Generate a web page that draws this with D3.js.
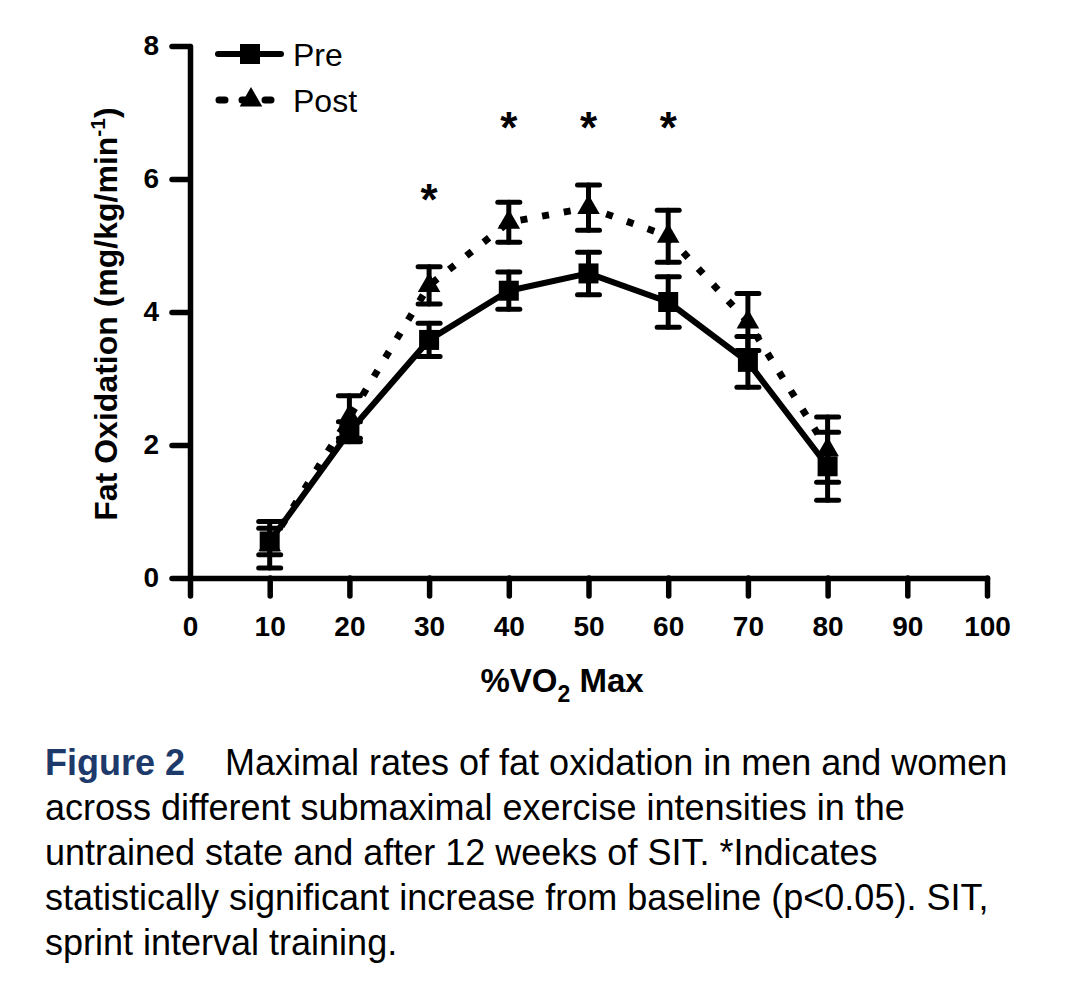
<!DOCTYPE html>
<html>
<head>
<meta charset="utf-8">
<script src="https://cdn.jsdelivr.net/npm/d3@7"></script>
<style>
  html, body { margin: 0; padding: 0; background: #fff; }
  svg { display: block; font-family: "Liberation Sans", Arial, Helvetica, sans-serif; }
</style>
</head>
<body>
<div id="chart"></div>
<script>
// Fat oxidation vs %VO2 max, pre / post SIT

const intensities = [10, 20, 30, 40, 50, 60, 70, 80];
const preMean = [0.55, 2.2, 3.58, 4.32, 4.58, 4.15, 3.25, 1.68];
const preSem = [0.2, 0.15, 0.25, 0.28, 0.32, 0.38, 0.38, 0.51];
const postMean = [0.5, 2.42, 4.4, 5.35, 5.57, 5.14, 3.85, 1.93];
const postSem = [0.35, 0.32, 0.28, 0.3, 0.34, 0.39, 0.43, 0.49];

const starX = [30, 40, 50, 60];
const starY = [5.83, 6.92, 6.92, 6.92];

const xTicks = [0, 10, 20, 30, 40, 50, 60, 70, 80, 90, 100];
const yTicks = [0, 2, 4, 6, 8];

const captionLines = [
    'across different submaximal exercise intensities in the',
    'untrained state and after 12 weeks of SIT. *Indicates',
    'statistically significant increase from baseline (p<0.05). SIT,',
    'sprint interval training.'
];

const W = 1080, H = 991;

const svg = d3.select('#chart').append('svg')
    .attr('width', W)
    .attr('height', H);

const x = d3.scaleLinear().domain([0, 100]).range([190, 987]);
const y = d3.scaleLinear().domain([0, 8]).range([578, 46]);

const pre = intensities.map((v, i) => ({ x: v, m: preMean[i], e: preSem[i] }));
const post = intensities.map((v, i) => ({ x: v, m: postMean[i], e: postSem[i] }));

// axes
const yAxis = d3.axisLeft(y).tickValues(yTicks).tickSize(18).tickSizeOuter(0).tickPadding(13);
const xAxis = d3.axisBottom(x).tickValues(xTicks).tickSize(18).tickSizeOuter(0).tickPadding(20);

function styleAxis(g) {
    g.selectAll('path, line')
        .attr('stroke', '#000')
        .attr('stroke-width', 5.5)
        .attr('stroke-linecap', 'round')
        .attr('stroke-linejoin', 'round');
    g.selectAll('text')
        .attr('fill', '#000')
        .attr('font-size', 28)
        .attr('font-weight', 'bold')
        .attr('font-family', '"Liberation Sans", Arial, sans-serif');
}

svg.append('g')
    .attr('transform', `translate(0,${y(0)})`)
    .call(xAxis)
    .call(styleAxis);

svg.append('g')
    .attr('transform', `translate(${x(0)},0)`)
    .call(yAxis)
    .call(styleAxis);

// axis titles
svg.append('text')
    .attr('transform', `translate(117,${(y(0) + y(8)) / 2 + 2}) rotate(-90)`)
    .attr('text-anchor', 'middle')
    .attr('font-size', 32)
    .attr('font-weight', 'bold')
    .call(t => {
        t.append('tspan').text('Fat Oxidation (mg/kg/min');
        t.append('tspan').attr('font-size', 21).attr('dy', -12).text('-1');
        t.append('tspan').attr('dy', 12).text(')');
    });

svg.append('text')
    .attr('x', 562)
    .attr('y', 692)
    .attr('text-anchor', 'middle')
    .attr('font-size', 33)
    .attr('font-weight', 'bold')
    .call(t => {
        t.append('tspan').text('%VO');
        t.append('tspan').attr('font-size', 23).attr('dy', 10).text('2');
        t.append('tspan').attr('dy', -10).text(' Max');
    });

// lines
const line = d3.line().x(d => x(d.x)).y(d => y(d.m));

svg.append('path')
    .datum(post)
    .attr('d', line)
    .attr('fill', 'none')
    .attr('stroke', '#000')
    .attr('stroke-width', 7)
    .attr('stroke-dasharray', '7 15');

svg.append('path')
    .datum(pre)
    .attr('d', line)
    .attr('fill', 'none')
    .attr('stroke', '#000')
    .attr('stroke-width', 6);

// error bars
function errorBars(data, cls) {
    const g = svg.append('g').attr('class', cls)
        .attr('stroke', '#000')
        .attr('stroke-width', 5)
        .attr('stroke-linecap', 'round');
    g.selectAll('.v').data(data).enter().append('line')
        .attr('x1', d => x(d.x)).attr('x2', d => x(d.x))
        .attr('y1', d => y(d.m - d.e)).attr('y2', d => y(d.m + d.e));
    g.selectAll('.top').data(data).enter().append('line')
        .attr('x1', d => x(d.x) - 11).attr('x2', d => x(d.x) + 11)
        .attr('y1', d => y(d.m + d.e)).attr('y2', d => y(d.m + d.e));
    g.selectAll('.bot').data(data).enter().append('line')
        .attr('x1', d => x(d.x) - 11).attr('x2', d => x(d.x) + 11)
        .attr('y1', d => y(d.m - d.e)).attr('y2', d => y(d.m - d.e));
}

const triangle = d3.symbol().type(d3.symbolTriangle).size(220);
const square = d3.symbol().type(d3.symbolSquare).size(400);

errorBars(post, 'post-err');
svg.append('g').selectAll('path').data(post).enter().append('path')
    .attr('d', triangle)
    .attr('transform', d => `translate(${x(d.x)},${y(d.m)})`)
    .attr('fill', '#000');

errorBars(pre, 'pre-err');
svg.append('g').selectAll('path').data(pre).enter().append('path')
    .attr('d', square)
    .attr('transform', d => `translate(${x(d.x)},${y(d.m)})`)
    .attr('fill', '#000');

// significance stars
svg.append('g').selectAll('text').data(starX).enter().append('text')
    .attr('x', d => x(d))
    .attr('y', (d, i) => y(starY[i]) + 25)
    .attr('text-anchor', 'middle')
    .attr('font-size', 44)
    .attr('font-weight', 'bold')
    .text('*');

// legend
const legend = svg.append('g');
legend.append('line')
    .attr('x1', 218).attr('x2', 281).attr('y1', 54).attr('y2', 54)
    .attr('stroke', '#000').attr('stroke-width', 6).attr('stroke-linecap', 'round');
legend.append('path')
    .attr('d', square)
    .attr('transform', 'translate(250,54)');
legend.append('line')
    .attr('x1', 219).attr('x2', 284).attr('y1', 100).attr('y2', 100)
    .attr('stroke', '#000').attr('stroke-width', 7).attr('stroke-linecap', 'round')
    .attr('stroke-dasharray', '6 17');
legend.append('path')
    .attr('d', triangle)
    .attr('transform', 'translate(251,100)');
legend.append('text')
    .attr('x', 293).attr('y', 66)
    .attr('font-size', 32)
    .text('Pre');
legend.append('text')
    .attr('x', 293).attr('y', 112)
    .attr('font-size', 32)
    .text('Post');

// caption
const cap = svg.append('g').attr('font-size', 36);
cap.append('text')
    .attr('x', 45).attr('y', 775)
    .attr('font-weight', 'bold')
    .attr('fill', '#1d3a6b')
    .text('Figure 2');
cap.append('text')
    .attr('x', 225).attr('y', 775)
    .attr('fill', '#000')
    .text('Maximal rates of fat oxidation in men and women');
cap.selectAll('.line').data(captionLines).enter().append('text')
    .attr('x', 45)
    .attr('y', (d, i) => 775 + 45 * (i + 1))
    .attr('fill', '#000')
    .text(d => d);
</script>
</body>
</html>
